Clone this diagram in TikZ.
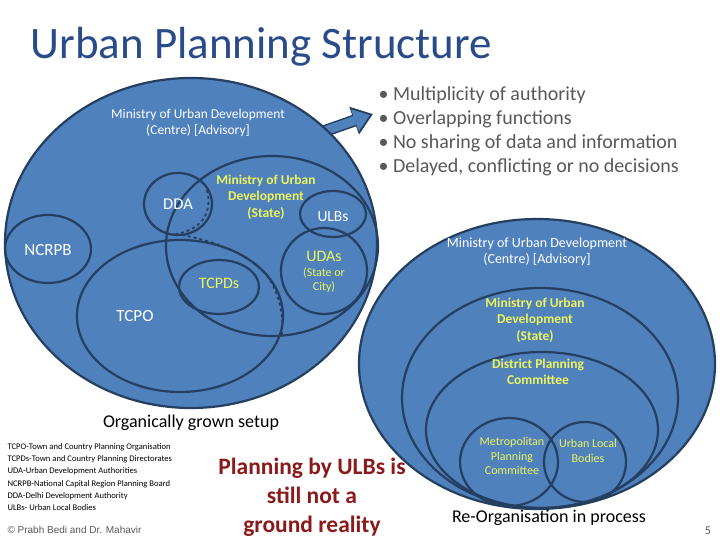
\documentclass[tikz,border=0pt]{standalone}
\usepackage{fontspec}
\setmainfont{Carlito}
\newfontfamily\arialf{Liberation Sans}
\usetikzlibrary{arrows.meta,calc}
\definecolor{fillb}{HTML}{4F81BD}
\definecolor{lineb}{HTML}{243F60}
\definecolor{yel}{HTML}{EEF55A}
\definecolor{titleb}{HTML}{2A4B8A}
\definecolor{grayt}{HTML}{595959}
\definecolor{dred}{HTML}{8B1A1A}
\tikzset{
 bub/.style={draw=lineb,line width=2.2pt,fill=fillb},
 ring/.style={draw=lineb,line width=2.2pt},
 wt/.style={text=white,align=center,font=\fontsize{13.5}{16}\selectfont},
 yt/.style={text=yel,align=center,font=\bfseries\fontsize{13.5}{16.5}\selectfont},
 ys/.style={text=yel,align=center,font=\fontsize{12}{14.5}\selectfont},
 bul/.style={text=grayt,anchor=west,font=\fontsize{20}{22}\selectfont},
 leg/.style={anchor=west,font=\fontsize{8.6}{12.2}\selectfont,align=left},
}
\begin{document}
\begin{tikzpicture}[x=1pt,y=-1pt]
\useasboundingbox[fill=white] (0,0) rectangle (720,540);
\node[anchor=west,text=titleb,font=\fontsize{45}{50}\selectfont] (title) at (27,47) {Urban Planning Structure};
% right diagram (behind bullets)
\draw[bub] (537,364) ellipse (178 and 145);
\draw[ring] (540,398) ellipse (138 and 110);
\draw[ring] (542,430) ellipse (116 and 78);
\draw[ring] (509,462) ellipse (49 and 44);
\draw[ring] (585,462) ellipse (41 and 40);
\node[wt,font=\fontsize{14}{16.5}\selectfont] (rmudc) at (537,252) {Ministry of Urban Development\\(Centre) [Advisory]};
\node[yt] (rmuds) at (535,320) {Ministry of Urban\\Development\\(State)};
\node[yt] (dpc) at (538,372) {District Planning\\Committee};
\node[ys] (mpc) at (512,456) {Metropolitan\\Planning\\Committee};
\node[ys] (ulb) at (588,451) {Urban Local\\Bodies};
\node[font=\fontsize{18}{20}\selectfont] (reorg) at (549,518) {Re-Organisation in process};
% arrow
\coordinate (as) at (322,132);
\coordinate (ae) at (373,114);
\draw[draw=lineb,line width=12pt,-{Triangle[length=20pt,width=28pt]}] (as) -- (ae);
\draw[fillb,line width=9pt,-{Triangle[length=16pt,width=22pt]}] (as) -- ($(ae)+(-3,1)$);
% left diagram
\draw[bub] (191,243) ellipse (186 and 165);
\draw[ring] (178,204) ellipse (34 and 31);
\draw[ring] (272,246) ellipse (106 and 90);
\draw[ring] (333,214) ellipse (33 and 23);
\draw[ring] (324,271) ellipse (43 and 43);
\draw[ring] (48,249) ellipse (43 and 34);
\draw[ring] (180,316) ellipse (103 and 76);
\draw[ring] (219,287) ellipse (40 and 27);
\draw[lineb,line width=1.8pt,dashed] (207,190) .. controls (212,210) and (205,228) .. (177,234)
  .. controls (200,238) and (250,250) .. (270,280) .. controls (282,300) and (283,320) .. (282,335);
\node[wt] (mudc) at (198,123) {Ministry of Urban Development\\(Centre) [Advisory]};
\node[wt,font=\fontsize{16.5}{19}\selectfont] (dda) at (178,204) {DDA};
\node[yt] (muds) at (266,197) {Ministry of Urban\\Development\\(State)};
\node[wt,font=\fontsize{15.5}{18}\selectfont] (ulbs) at (333,217) {ULBs};
\node[ys,font=\fontsize{16}{18}\selectfont] (udas) at (324,256) {UDAs};
\node[ys] (udas2) at (324,280) {(State or\\City)};
\node[wt,font=\fontsize{17}{19}\selectfont] (ncrpb) at (48,250) {NCRPB};
\node[wt,font=\fontsize{17}{19}\selectfont] (tcpo) at (135,316) {TCPO};
\node[ys,font=\fontsize{16}{18}\selectfont] (tcpds) at (219,283) {TCPDs};
\node[font=\fontsize{18}{20}\selectfont] (org) at (191,423) {Organically grown setup};
% bullets
\node[bul] (b1) at (375,95) {\textbullet\ Multiplicity of authority};
\node[bul] (b2) at (375,119) {\textbullet\ Overlapping functions};
\node[bul] (b3) at (375,143) {\textbullet\ No sharing of data and information};
\node[bul] (b4) at (375,167) {\textbullet\ Delayed, conflicting or no decisions};
% bottom texts
\node[leg] (legend) at (4,477) {TCPO-Town and Country Planning Organisation\\TCPDs-Town and Country Planning Directorates\\UDA-Urban Development Authorities\\NCRPB-National Capital Region Planning Board\\DDA-Delhi Development Authority\\ULBs- Urban Local Bodies};
\node[anchor=west,text=grayt,font=\arialf\fontsize{10}{12}\selectfont] (copy) at (4,530) {© Prabh Bedi and Dr. Mahavir};
\node[text=dred,align=center,font=\bfseries\fontsize{23.5}{29}\selectfont] (pulb) at (312,497) {Planning by ULBs is\\still not a\\ground reality};
\node[text=grayt,font=\fontsize{12}{14}\selectfont] (pg) at (708,531) {5};
\end{tikzpicture}
\end{document}
